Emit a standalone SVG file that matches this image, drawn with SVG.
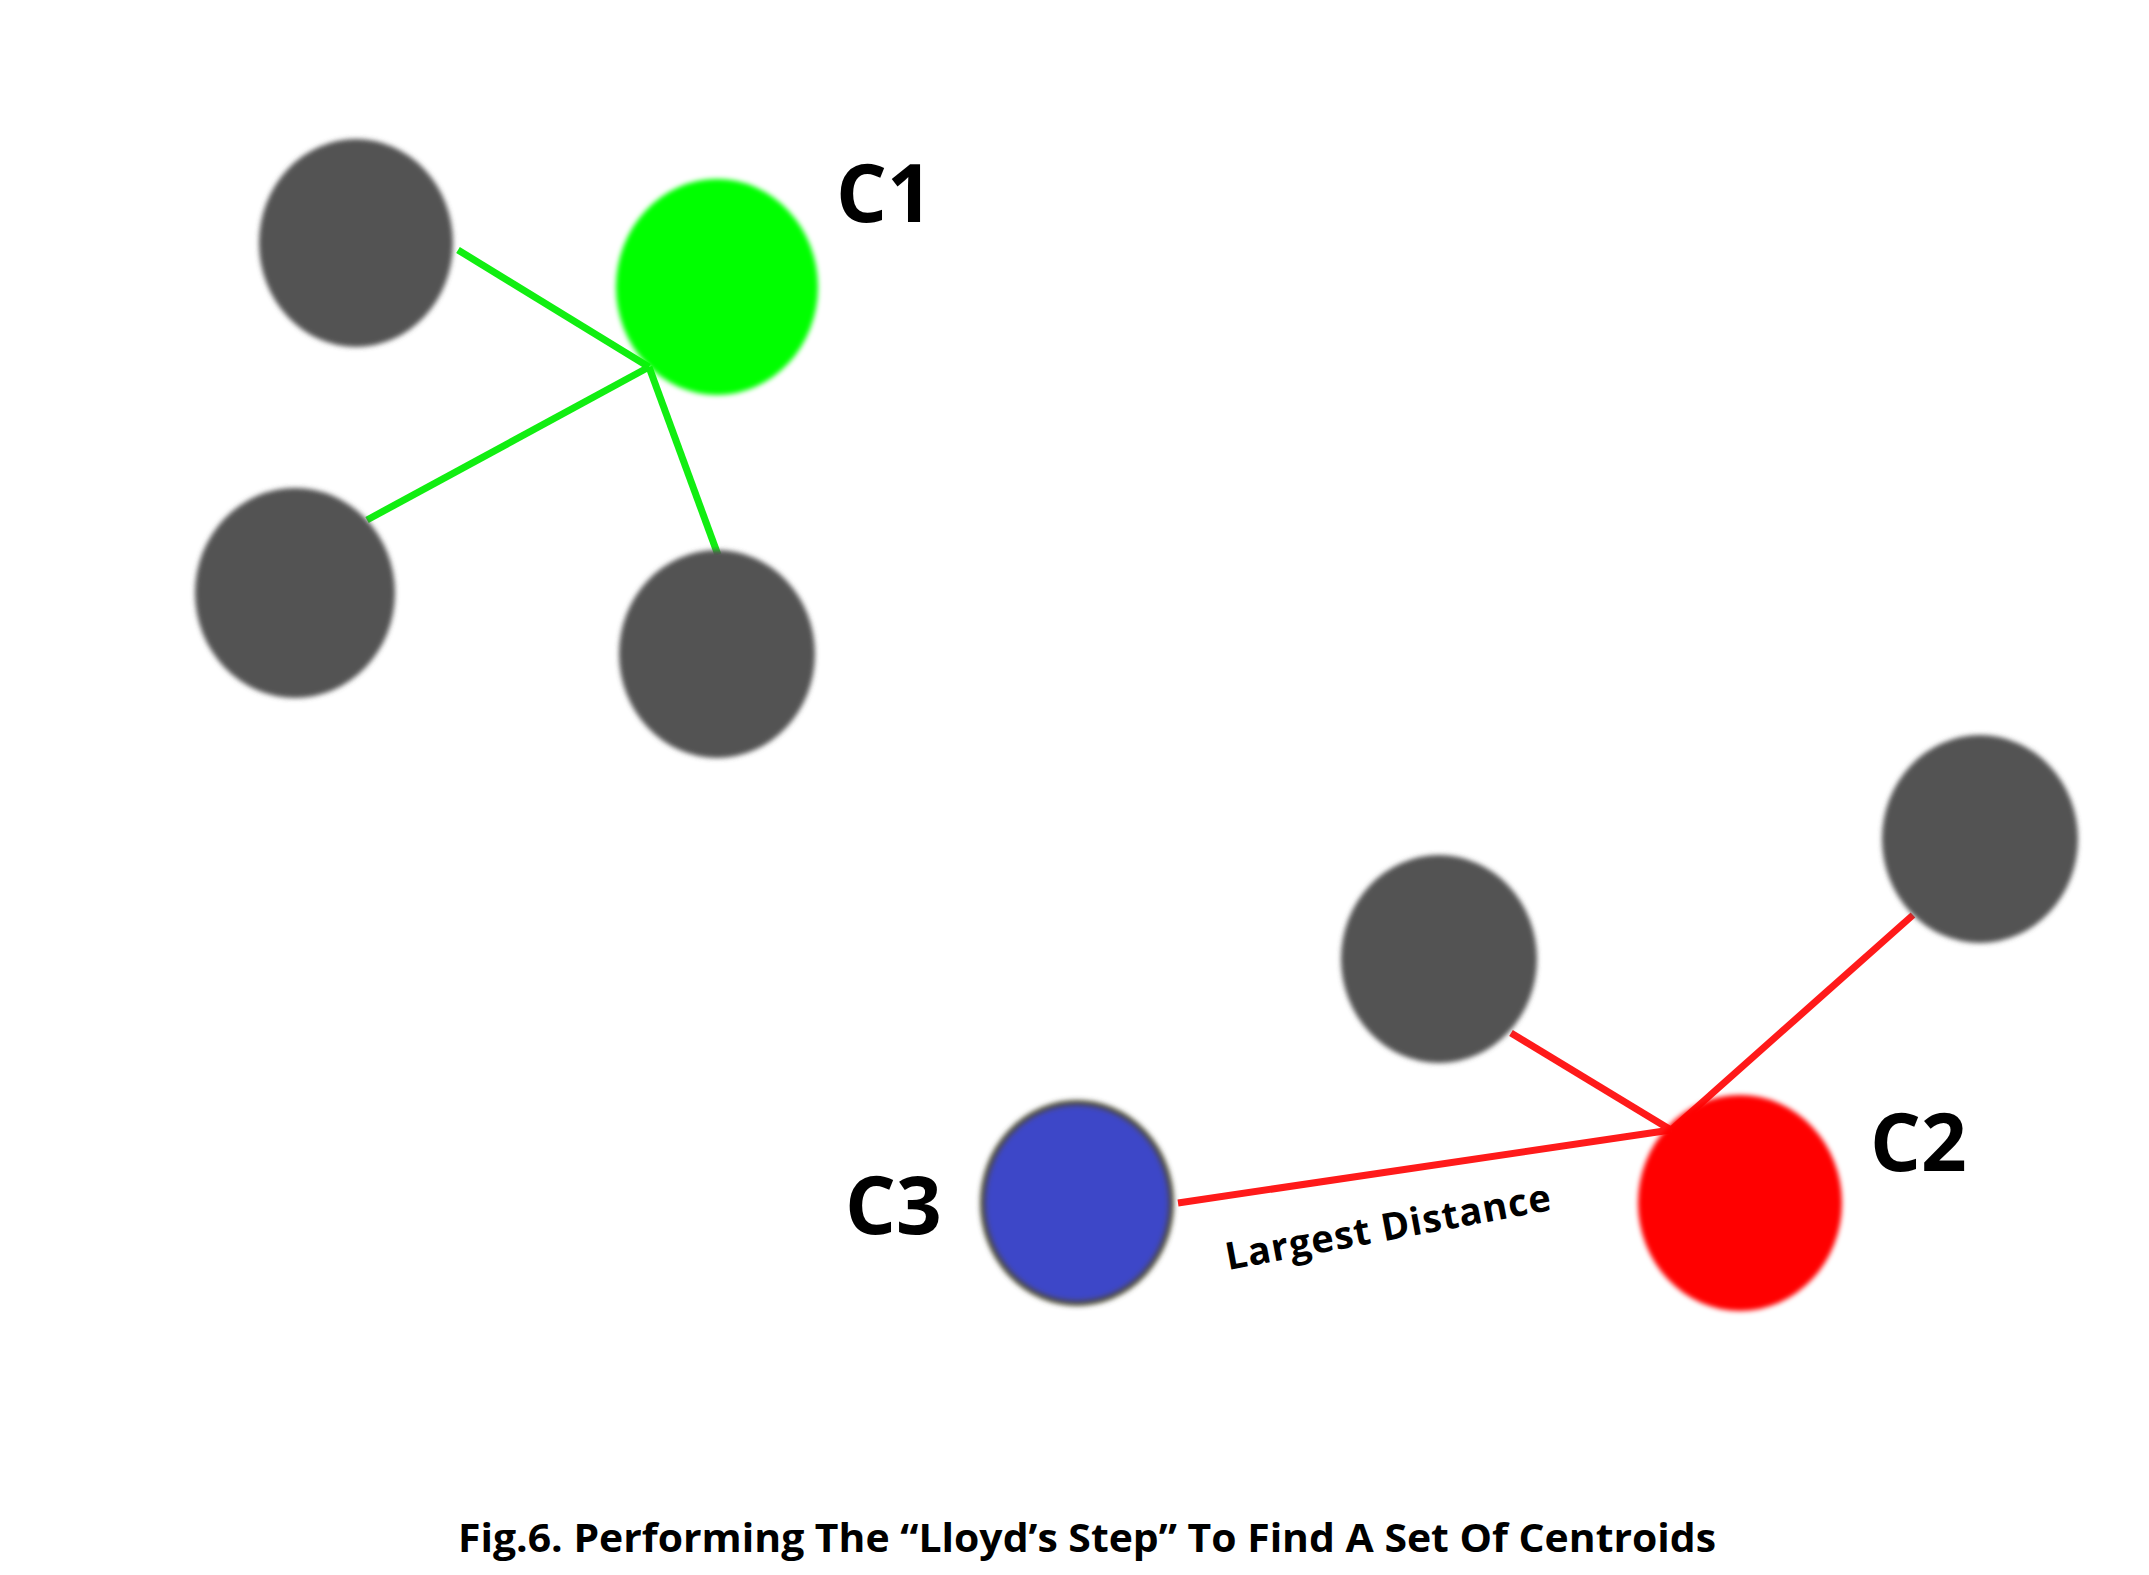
<svg xmlns="http://www.w3.org/2000/svg" width="2149" height="1575" viewBox="0 0 2149 1575">
<defs>
<filter id="soft" x="-10%" y="-10%" width="120%" height="120%"><feGaussianBlur stdDeviation="2.5"/></filter>
</defs>
<style>
.pt{fill:#525252;filter:url(#soft)}
.lbl{font-family:"Open Sans","Liberation Sans",sans-serif;font-weight:bold;fill:#000}
.g{stroke:#11ee11;stroke-width:7;fill:none}
.r{stroke:#ff1a1a;stroke-width:7;fill:none}
</style>
<rect width="2149" height="1575" fill="#fff"/>
<g id="connectors">
<line class="g" x1="458" y1="250" x2="649" y2="367"/>
<line class="g" x1="367" y1="520" x2="649" y2="367"/>
<line class="g" x1="649" y1="367" x2="718" y2="555"/>
<line class="r" x1="1511" y1="1033" x2="1671" y2="1130"/>
<line class="r" x1="1913" y1="915" x2="1671" y2="1130"/>
<line class="r" x1="1178" y1="1203" x2="1671" y2="1130"/>
</g>
<g id="p1"><ellipse class="pt" cx="356" cy="243" rx="97" ry="104"/></g>
<g id="p2"><ellipse class="pt" cx="295" cy="593" rx="100" ry="105"/></g>
<g id="p3"><ellipse class="pt" cx="717" cy="654" rx="98" ry="104"/></g>
<g id="p4"><ellipse class="pt" cx="1439" cy="959" rx="98" ry="104"/></g>
<g id="p5"><ellipse class="pt" cx="1980" cy="839" rx="98" ry="104"/></g>
<g id="c1"><ellipse cx="717" cy="287" rx="101" ry="108" fill="#00ff00" filter="url(#soft)"/><text class="lbl" x="836" y="222" font-size="80">C1</text></g>
<g id="c2"><ellipse cx="1740" cy="1203" rx="102" ry="108" fill="#ff0000" filter="url(#soft)"/><text class="lbl" x="1870" y="1171" font-size="80">C2</text></g>
<g id="c3"><ellipse cx="1077" cy="1203" rx="94" ry="100" fill="#3c46c8" stroke="#4a4a3a" stroke-width="6" filter="url(#soft)"/><text class="lbl" x="845" y="1234" font-size="80">C3</text></g>
<text class="lbl" font-size="38" transform="translate(1228,1270) rotate(-10.5)" textLength="330">Largest Distance</text>
<text class="lbl" x="1087" y="1552" font-size="40" text-anchor="middle" textLength="1258" lengthAdjust="spacingAndGlyphs">Fig.6. Performing The “Lloyd’s Step” To Find A Set Of Centroids</text>
</svg>
